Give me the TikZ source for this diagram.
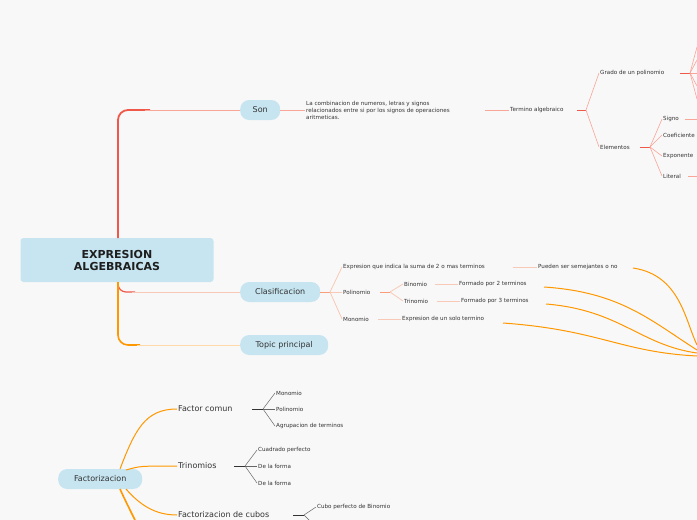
\documentclass[tikz,border=0pt]{standalone}
\usepackage{fontspec}
\setmainfont{DejaVu Sans}
\definecolor{bg}{RGB}{248,248,248}
\definecolor{pill}{RGB}{198,229,240}
\definecolor{txt}{RGB}{51,51,51}
\definecolor{redl}{RGB}{240,88,74}
\definecolor{pinkl}{RGB}{249,165,152}
\definecolor{peach}{RGB}{248,201,182}
\definecolor{org}{RGB}{255,152,0}
\definecolor{lorg}{RGB}{255,217,168}
\begin{document}
\begin{tikzpicture}[x=1pt,y=-1pt,
  pillnode/.style={fill=pill,rounded corners=9pt,minimum height=20pt,text=txt,font=\fontsize{8}{9}\selectfont,inner xsep=8pt,anchor=west},
  sm/.style={anchor=west,text=txt,font=\fontsize{5.6}{7}\selectfont,inner sep=1pt},
  md/.style={anchor=west,text=txt,font=\fontsize{8}{9}\selectfont,inner sep=1pt},
  rl/.style={draw=pinkl,line width=0.6pt},
  pl/.style={draw=peach,line width=0.8pt},
  ol/.style={draw=org,line width=1pt},
  gl/.style={draw=black!60,line width=0.5pt}]
\fill[bg] (0,0) rectangle (697,520);
\useasboundingbox (0,0) rectangle (697,520);
% root
\node[fill=pill,rounded corners=3pt,minimum width=193pt,minimum height=44pt,text=txt!60!black,font=\fontsize{11}{12}\selectfont\bfseries,align=center] (root) at (117,260) {EXPRESION\\ALGEBRAICAS};
\node[pillnode,minimum width=40pt] (son) at (240,110) {Son};
\node[pillnode,minimum width=80pt] (clas) at (240,292) {Clasificacion};
\node[pillnode,minimum width=88pt] (topic) at (240,345) {Topic principal};
\draw[draw=redl,line width=1.8pt,rounded corners=10pt] (118,238) -- (118,110) -- (150,110);
\draw[draw=pinkl,line width=0.8pt] (145,110) -- (son.west);
\draw[draw=redl,line width=1.2pt,rounded corners=8pt] (118,282) -- (118,292) -- (135,292);
\draw[draw=peach,line width=1pt] (132,292) -- (clas.west);
\draw[draw=org,line width=1.6pt,rounded corners=10pt] (118,282) -- (118,345) -- (140,345);
\draw[draw=lorg,line width=1pt] (137,345) -- (topic.west);
% Son branch
\node[sm,align=left] (def) at (305,110) {La combinacion de numeros, letras y signos\\relacionados entre si por los signos de operaciones\\aritmeticas.};
\draw[rl] (son.east) -- (def.west);
\node[sm] (term) at (509,110) {Termino algebraico};
\draw[rl] (485,110) -- (term.west);
\node[sm] (grado) at (599,73) {Grado de un polinomio};
\node[sm] (elem) at (599,147) {Elementos};
\coordinate (tj) at (586,110);
\draw[draw=redl,line width=1pt] (577,110) -- (tj);
\draw[rl] (tj) -- (grado.west);
\draw[rl] (tj) -- (elem.west);
\coordinate (gj) at (690,73);
\draw[draw=redl,line width=1pt] (680,73) -- (gj);
\foreach \y in {47,60,73,86,99} \draw[rl] (gj) -- (697,\y);
\coordinate (ej) at (650,147);
\draw[draw=redl,line width=1pt] (640,147) -- (ej);
\node[sm] (signo) at (662,119) {Signo};
\node[sm] (coef) at (662,135) {Coeficiente};
\node[sm] (expo) at (662,156) {Exponente};
\node[sm] (lit) at (662,176) {Literal};
\foreach \n in {signo,coef,expo,lit} \draw[rl] (ej) -- (\n.west);
\draw[rl] (685,119) -- (697,119);
\draw[rl] (688,176) -- (697,176);
% Clasificacion
\coordinate (cj) at (330,292);
\draw[draw=pinkl!80!orange,line width=1pt] (clas.east) -- (cj);
\node[sm] (e1) at (342,267) {Expresion que indica la suma de 2 o mas terminos};
\node[sm] (poli) at (342,292) {Polinomio};
\node[sm] (mono) at (342,319) {Monomio};
\foreach \n in {e1,poli,mono} \draw[pl] (cj) -- (\n.west);
\node[sm] (pued) at (537,267) {Pueden ser semejantes o no};
\draw[pl] (513,267) -- (pued.west);
\coordinate (pj) at (390,292);
\draw[draw=pinkl!80!orange,line width=1pt] (380,292) -- (pj);
\node[sm] (bin) at (403,284) {Binomio};
\node[sm] (tri) at (403,301) {Trinomio};
\draw[pl] (pj) -- (bin.west); \draw[pl] (pj) -- (tri.west);
\node[sm] (f2) at (458,284) {Formado por 2 terminos};
\node[sm] (f3) at (460,301) {Formado por 3 terminos};
\draw[pl] (435,284) -- (f2.west);
\draw[pl] (437,301) -- (f3.west);
\node[sm] (eu) at (401,319) {Expresion de un solo termino};
\draw[pl] (378,319) -- (eu.west);
\draw[ol] (633,268) .. controls (680,275) and (685,320) .. (697,345);
\draw[ol] (544,287) .. controls (620,292) and (650,320) .. (697,350);
\draw[ol] (546,304) .. controls (620,310) and (640,345) .. (697,353);
\draw[ol] (503,323) .. controls (600,330) and (620,352) .. (697,356);
% Factorizacion
\node[pillnode,minimum width=84pt] (fact) at (58,479) {Factorizacion};
\node[md] (fc) at (177,409) {Factor comun};
\node[md] (trin) at (177,466) {Trinomios};
\node[md] (fcub) at (177,515) {Factorizacion de cubos};
\draw[ol] (120,469) .. controls (135,430) and (145,409) .. (fc.west);
\draw[ol] (126,470) .. controls (140,466) .. (trin.west);
\draw[ol] (126,489) .. controls (140,505) and (155,515) .. (fcub.west);
\draw[draw=org,line width=1.6pt] (120,489) .. controls (125,500) and (130,510) .. (135,520);
\coordinate (fj) at (263,409);
\draw[draw=black!80,line width=0.9pt] (252,409) -- (fj);
\node[sm] (m1) at (275,393) {Monomio};
\node[sm] (m2) at (275,409) {Polinomio};
\node[sm] (m3) at (275,426) {Agrupacion de terminos};
\foreach \n in {m1,m2,m3} \draw[gl] (fj) -- (\n.west);
\coordinate (tj2) at (245,466);
\draw[draw=black!80,line width=0.9pt] (234,466) -- (tj2);
\node[sm] (t1) at (257,450) {Cuadrado perfecto};
\node[sm] (t2) at (257,466) {De la forma};
\node[sm] (t3) at (257,483) {De la forma};
\foreach \n in {t1,t2,t3} \draw[gl] (tj2) -- (\n.west);
\coordinate (cj2) at (304,515);
\draw[draw=black!80,line width=0.9pt] (293,515) -- (cj2);
\node[sm] (c1) at (316,507) {Cubo perfecto de Binomio};
\draw[gl] (cj2) -- (c1.west);
\draw[gl] (cj2) -- (312,523);
\end{tikzpicture}
\end{document}
